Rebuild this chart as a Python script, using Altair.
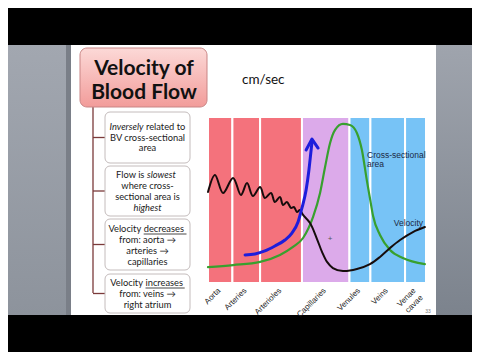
import altair as alt
import pandas as pd

# ---------------- data ----------------
segments = ["Aorta", "Arteries", "Arterioles", "Capillaries", "Venules", "Veins", "Venae\ncavae"]
seg_start = [0, 11.2, 23.9, 43.1, 64.9, 74.5, 90.4]
seg_end = [11.2, 23.9, 43.1, 64.9, 74.5, 90.4, 100]
seg_group = ["arterial", "arterial", "arterial", "capillary", "venous", "venous", "venous"]

area_x = [0, 11.5, 23.9, 33.0, 39.0, 43.6, 48.2, 51.4, 53.7, 56.0, 58.3, 61.9, 65.1, 68.3,
          70.6, 72.9, 74.3, 75.7, 78.9, 83.5, 89.4, 99.5]
area_y = [9.6, 10.8, 12.7, 16.9, 21.7, 27.1, 39.8, 54.2, 69.9, 84.3, 92.2, 95.8, 95.2, 90.4,
          80.1, 61.5, 51.0, 40.5, 28.9, 19.9, 15.1, 11.4]

vel_x = [0, 3.2, 6.9, 11.5, 15.1, 17.9, 20.6, 23.9, 26.1, 28.9, 30.7, 33.0, 34.4, 36.2, 38.1,
         39.4, 40.8, 42.2, 43.6, 46.8, 50.0, 52.3, 54.6, 57.3, 61.9, 68.3, 74.3, 78.9, 83.5,
         88.1, 94.0, 99.5]
vel_y = [54.8, 65.1, 54.2, 63.3, 53.0, 60.2, 52.4, 57.8, 51.2, 54.2, 48.8, 51.8, 47.0, 48.8, 45.2,
         45.8, 42.8, 44.0, 41.0, 36.1, 26.5, 18.7, 12.7, 9.0, 7.2, 8.4, 11.4, 15.7, 21.1,
         25.9, 30.7, 33.7]

arrow_x = [17.0, 21.6, 26.1, 30.7, 35.3, 38.5, 41.3, 43.1, 45.0, 46.3, 47.2, 47.7]
arrow_y = [16.9, 17.5, 19.3, 22.3, 25.9, 30.1, 36.7, 45.2, 56.0, 68.1, 78.9, 84.9]
head_x = [45.0, 47.7, 50.5]
head_y = [80.1, 86.7, 81.3]

title_lines = ["Velocity of", "Blood Flow"]
unit_label = "cm/sec"
area_label = ["Cross-sectional", "area"]
vel_label = "Velocity"

# ---------------- layout helpers ----------------
OX, OY = 208, 117          # page position of plot-area origin
W, H = 218, 166
dummy = pd.DataFrame({"d": [0]})
LATO = "Lato"


def rect(x0, x1, y0, y1, **kw):
    return alt.Chart(dummy).mark_rect(**kw).encode(
        x=alt.value(x0 - OX), x2=alt.value(x1 - OX),
        y=alt.value(y0 - OY), y2=alt.value(y1 - OY))


def txt(s, x, y, size=10, align="center", font=LATO, style="normal", weight="normal",
        color="#1a1a1a"):
    return alt.Chart(dummy).mark_text(
        text=s, align=align, baseline="middle", font=font, fontSize=size,
        fontStyle=style, fontWeight=weight, color=color).encode(
        x=alt.value(x - OX), y=alt.value(y - OY))


def hline(x0, x1, y, color, w=1):
    return alt.Chart(dummy).mark_rule(color=color, strokeWidth=w).encode(
        x=alt.value(x0 - OX), x2=alt.value(x1 - OX), y=alt.value(y - OY))


def vline(x, y0, y1, color, w=1):
    return alt.Chart(dummy).mark_rule(color=color, strokeWidth=w).encode(
        x=alt.value(x - OX), y=alt.value(y0 - OY), y2=alt.value(y1 - OY))


def grad(c0, c1):
    return alt.Gradient(gradient="linear", x1=0, x2=0, y1=0, y2=1,
                        stops=[alt.GradientStop(color=c0, offset=0),
                               alt.GradientStop(color=c1, offset=1)])


# ---------------- slide frame ----------------
layers = [
    rect(8, 66, 45, 315, fill=grad("#a2a7b0", "#8d939c")),
    rect(66, 71, 45, 315, fill="#7a7f88"),
    rect(436, 472, 45, 315, fill=grad("#9fa4ad", "#7c838d")),
    rect(71, 436, 45, 315, fill="#ffffff"),
]

# ---------------- left panel ----------------
layers += [
    vline(93, 107, 293, "#7b3a3a", 1.3),
    rect(80, 207, 48, 107, fill=grad("#fcd9d7", "#f29c9a"), stroke="#c98585",
         strokeWidth=1, cornerRadius=7),
    txt(title_lines[0], 144, 69, size=21, weight="bold", color="#111111"),
    txt(title_lines[1], 144, 93, size=21, weight="bold", color="#111111"),
]
boxes = [(112, 163), (166, 216), (219, 270), (274, 313)]
for (y0, y1) in boxes:
    layers.append(hline(93, 105, (y0 + y1) / 2, "#7b3a3a", 1.3))
    layers.append(rect(105, 190, y0, y1, fill="#ffffff", stroke="#c4bcbc",
                       strokeWidth=1, cornerRadius=5))

CX = 147.5
FS = 9.3
layers += [
    # box 1
    txt("Inversely", 143.5, 127, FS, align="right", style="italic"),
    txt("related to", 146, 127, FS, align="left"),
    txt("BV cross-sectional", CX, 137.5, FS),
    txt("area", CX, 148, FS),
    # box 2
    txt("Flow is", 144.4, 175, FS, align="right"),
    txt("slowest", 147, 175, FS, align="left", style="italic"),
    txt("where cross-", CX, 186, FS),
    txt("sectional area is", CX, 197, FS),
    txt("highest", CX, 207.5, FS, style="italic"),
    # box 3
    txt("Velocity", 141.2, 229, FS, align="right"),
    txt("decreases", 143.7, 229, FS, align="left"),
    hline(143.7, 186.5, 234, "#1a1a1a", 0.8),
    txt("from: aorta \u2192", CX, 240, FS),
    txt("arteries \u2192", CX, 251, FS),
    txt("capillaries", CX, 262, FS),
    # box 4
    txt("Velocity", 143, 283, FS, align="right"),
    txt("increases", 145.5, 283, FS, align="left"),
    hline(145.5, 184.7, 288, "#1a1a1a", 0.8),
    txt("from: veins \u2192", CX, 294, FS),
    txt("right atrium", CX, 305, FS),
]

# ---------------- chart ----------------
xs = alt.Scale(domain=[0, 100], nice=False, zero=False)
ys = alt.Scale(domain=[0, 100], nice=False, zero=False)

seg_df = pd.DataFrame({"segment": segments, "start": seg_start, "end": seg_end,
                       "group": seg_group})

bands = alt.Chart(seg_df).mark_rect(stroke="#ffffff", strokeWidth=2).encode(
    x=alt.X("start:Q", scale=xs, axis=None),
    x2="end:Q",
    y=alt.value(0), y2=alt.value(H),
    color=alt.Color("group:N", legend=None,
                    scale=alt.Scale(domain=["arterial", "capillary", "venous"],
                                    range=["#f4727c", "#dcaaea", "#77c3f6"])),
)

seg_labels = alt.Chart(seg_df).transform_calculate(
    mid="(datum.start + datum.end) / 2"
).mark_text(angle=315, align="right", baseline="middle", font="Liberation Sans",
            fontSize=8, color="#222222", lineBreak="\n", dx=-1).encode(
    x=alt.X("mid:Q", scale=xs, axis=None),
    y=alt.value(H + 6),
    text="segment:N",
)

area_df = pd.DataFrame({"x": area_x, "y": area_y})
vel_df = pd.DataFrame({"x": vel_x, "y": vel_y})
arrow_df = pd.DataFrame({"x": arrow_x, "y": arrow_y})
head_df = pd.DataFrame({"x": head_x, "y": head_y})


def curve(df, color, width, interp="monotone"):
    return alt.Chart(df).mark_line(color=color, strokeWidth=width, interpolate=interp,
                                   strokeCap="round", strokeJoin="round").encode(
        x=alt.X("x:Q", scale=xs, axis=None),
        y=alt.Y("y:Q", scale=ys, axis=None),
    )


layers += [
    bands,
    seg_labels,
    curve(area_df, "#38a02e", 2.2),
    curve(vel_df, "#160c0c", 2.0, "catmull-rom"),
    curve(arrow_df, "#1d1ddc", 3.0),
    curve(head_df, "#1d1ddc", 3.0, "linear"),
    txt(unit_label, 242, 80, 13.5, align="left", color="#111111"),
    txt(area_label[0], 367, 155, 8.5, align="left", font="Liberation Sans", color="#1b2a45"),
    txt(area_label[1], 367, 164, 8.5, align="left", font="Liberation Sans", color="#1b2a45"),
    txt(vel_label, 423, 223, 8.5, align="right", font="Liberation Sans", color="#1b2a45"),
    txt("+", 330, 239, 8, font="Liberation Sans", color="#555555"),
    txt("33", 428, 311, 5, font="Liberation Sans", color="#777777"),
]

chart = alt.layer(*layers).properties(
    width=W, height=H,
    autosize=alt.AutoSizeParams(type="none"),
    padding={"left": OX - 8, "top": OY - 8, "right": 472 - (OX + W), "bottom": 352 - (OY + H)},
    background="#000000",
).configure_view(strokeWidth=0)

chart.save("out.html", embed_options={"renderer": "svg", "actions": False})
